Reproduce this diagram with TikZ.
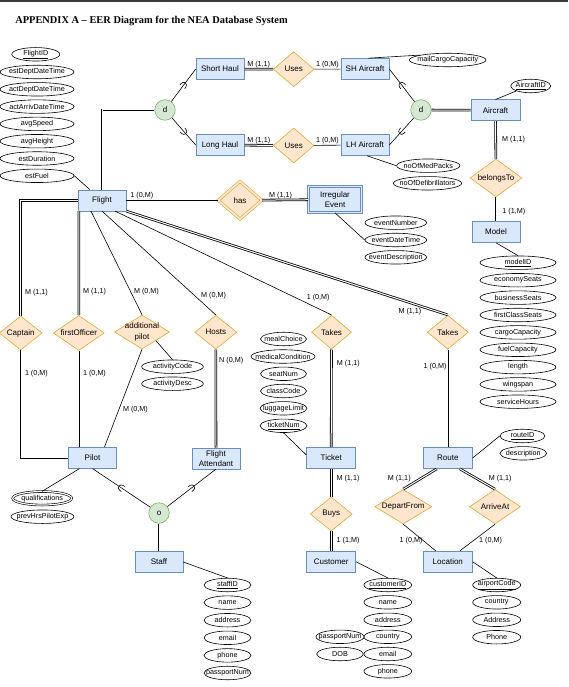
\documentclass[tikz,border=0pt]{standalone}
\usepackage{fontspec}
\setmainfont{Liberation Sans}
\newfontfamily\titlefont{Liberation Serif}
\usetikzlibrary{shapes.geometric, decorations.markings}
\definecolor{entfill}{HTML}{DAE8FC}
\definecolor{entdraw}{HTML}{6C8EBF}
\definecolor{relfill}{HTML}{FFE6CC}
\definecolor{reldraw}{HTML}{DDAA3A}
\definecolor{catfill}{HTML}{D5E8D4}
\definecolor{catdraw}{HTML}{82B366}
\begin{document}
\begin{tikzpicture}[x=1pt, y=-1pt, line width=0.6pt,
  entity/.style={rectangle, draw=entdraw, fill=entfill, minimum width=48pt, minimum height=21pt, inner sep=0pt, align=center, font=\fontsize{8}{10}\selectfont},
  weak/.style={entity, double=entfill, double distance=1.8pt},
  rel/.style={diamond, aspect=1.4, draw=reldraw, fill=relfill, inner sep=-4pt, align=center, font=\fontsize{8}{11}\selectfont},
  idrel/.style={rel, double=relfill, double distance=1.8pt},
  attr/.style={ellipse, draw=black, fill=white, minimum height=13.5pt, inner sep=0pt, font=\fontsize{7.2}{8}\selectfont,
    execute at begin node={\setbox0=\hbox\bgroup}, execute at end node={\egroup\makebox[0pt]{\box0}}},
  multi/.style={attr, double, double distance=1.2pt},
  cat/.style={circle, draw=catdraw, fill=catfill, minimum size=20.5pt, inner sep=0pt, font=\fontsize{8}{10}\selectfont},
  card/.style={inner sep=1pt, font=\fontsize{7.2}{8}\selectfont},
  total/.style={double, line width=0.8pt, double distance=1pt},
  subsetline/.style={postaction={decorate}, decoration={markings, mark=at position 0.5 with {\draw[line width=0.6pt] (-2pt,3pt) -- (0pt,3pt) arc[start angle=90, end angle=-90, radius=3pt] -- (-2pt,-3pt);}}}
]
\useasboundingbox (0,0) rectangle (568,687);
\fill[black!78] (0,0) rectangle (568,2);
\node[anchor=west, inner sep=0pt, font=\titlefont\bfseries\fontsize{10.4}{12}\selectfont] (title) at (15,21) {APPENDIX A – EER Diagram for the NEA Database System};

\node[entity] (flight) at (102,200.3) {Flight};
\node[entity] (shorthaul) at (220,69) {Short Haul};
\node[entity] (longhaul) at (220,145) {Long Haul};
\node[entity] (shac) at (365,69) {SH Aircraft};
\node[entity] (lhac) at (365,145) {LH Aircraft};
\node[entity, minimum width=49pt] (aircraft) at (495.5,110.3) {Aircraft};
\node[entity] (model) at (496,232) {Model};
\node[weak, minimum width=53pt, minimum height=26pt] (ie) at (335,199.5) {Irregular\\Event};
\node[entity] (pilot) at (92.5,457.8) {Pilot};
\node[entity] (fa) at (216,458.3) {Flight\\Attendant};
\node[entity, minimum width=49pt] (ticket) at (331.2,458) {Ticket};
\node[entity, minimum width=49pt] (route) at (447.8,458) {Route};
\node[entity] (staff) at (159,562) {Staff};
\node[entity, minimum width=49pt] (customer) at (331.2,561.7) {Customer};
\node[entity, minimum width=49pt] (location) at (447.8,561.7) {Location};

\node[cat] (d1) at (165,110) {d};
\node[cat] (d2) at (421,110) {d};
\node[cat] (ocat) at (159,513) {o};

\node[rel, minimum width=40.7pt, minimum height=35pt] (uses1) at (293.7,69.2) {Uses};
\node[rel, minimum width=40.7pt, minimum height=35pt] (uses2) at (293.7,145.5) {Uses};
\node[rel, minimum width=52pt, minimum height=38pt] (belongsto) at (496,178) {belongsTo};
\node[idrel, minimum width=44pt, minimum height=38pt] (has) at (240,200.3) {has};
\node[rel, minimum width=43pt, minimum height=34pt] (captain) at (20.7,333) {Captain};
\node[rel, minimum width=51pt, minimum height=35pt] (firstofficer) at (78.8,333) {firstOfficer};
\node[rel, minimum width=55pt, minimum height=34pt] (addpilot) at (142,332) {additional\\pilot};
\node[rel, minimum width=42pt, minimum height=34pt] (hosts) at (215.8,332.2) {Hosts};
\node[rel, minimum width=40pt, minimum height=34pt] (takes1) at (331.5,332.2) {Takes};
\node[rel, minimum width=41pt, minimum height=34pt] (takes2) at (447.8,332.2) {Takes};
\node[rel, minimum width=42pt, minimum height=34pt] (buys) at (331.2,514) {Buys};
\node[rel, minimum width=57pt, minimum height=34.5pt] (departfrom) at (403.3,506.7) {DepartFrom};
\node[rel, minimum width=51pt, minimum height=34.5pt] (arriveat) at (495,506.7) {ArriveAt};

\node[attr, minimum width=48pt] (flightid) at (35.8,54.3) {\underline{FlightID}};
\node[attr, minimum width=74pt] (estdept) at (37,72) {estDeptDateTime};
\node[attr, minimum width=74pt] (actdept) at (37,89.3) {actDeptDateTime};
\node[attr, minimum width=74pt] (actarriv) at (37,106.6) {actArrivDateTime};
\node[attr, minimum width=74pt] (avgspeed) at (37,123.9) {avgSpeed};
\node[attr, minimum width=74pt] (avgheight) at (37,141.2) {avgHeight};
\node[attr, minimum width=74pt] (estdur) at (37,158.5) {estDuration};
\node[attr, minimum width=74pt] (estfuel) at (37,175.8) {estFuel};

\node[attr, minimum width=76.7pt] (mailcargo) at (447.7,60) {mailCargoCapacity};
\node[attr, minimum width=40pt] (aircraftid) at (530.7,86) {\underline{AircraftID}};
\node[attr, minimum width=63.3pt] (medpacks) at (428.3,165.7) {noOfMedPacks};
\node[attr, minimum width=68.3pt] (defib) at (427.5,183.3) {noOfDefibrillators};

\node[attr, minimum width=61.7pt] (eventnumber) at (395.8,222.7) {eventNumber};
\node[attr, minimum width=61.7pt] (eventdatetime) at (395.8,240) {eventDateTime};
\node[attr, minimum width=61.7pt] (eventdesc) at (395.8,257.3) {eventDescription};

\node[attr, minimum width=76pt] (modelid) at (518,262.7) {\underline{modelID}};
\node[attr, minimum width=76pt] (economy) at (518,280.2) {economySeats};
\node[attr, minimum width=76pt] (business) at (518,297.6) {businessSeats};
\node[attr, minimum width=76pt] (firstclass) at (518,315) {firstClassSeats};
\node[attr, minimum width=76pt] (cargocap) at (518,332.4) {cargoCapacity};
\node[attr, minimum width=76pt] (fuelcap) at (518,349.8) {fuelCapacity};
\node[attr, minimum width=76pt] (length) at (518,367.1) {length};
\node[attr, minimum width=76pt] (wingspan) at (518,384.4) {wingspan};
\node[attr, minimum width=76pt] (servicehours) at (518,401.7) {serviceHours};

\node[attr, minimum width=61.7pt] (activitycode) at (172.5,366.7) {activityCode};
\node[attr, minimum width=61.7pt] (activitydesc) at (172.5,383.7) {activityDesc};

\node[attr, minimum width=46pt] (mealchoice) at (283.5,339) {mealChoice};
\node[attr, minimum width=64pt] (medical) at (283,356.5) {medicalCondition};
\node[attr, minimum width=46pt] (seatnum) at (283.5,373.8) {seatNum};
\node[attr, minimum width=46pt] (classcode) at (283.5,391) {classCode};
\node[attr, minimum width=47pt] (luggage) at (283.5,408.3) {luggageLimit};
\node[attr, minimum width=47pt] (ticketnum) at (283.5,425.8) {\underline{ticketNum}};

\node[attr, minimum width=45pt] (routeid) at (522.5,436) {\underline{routeID}};
\node[attr, minimum width=46.7pt] (routedesc) at (523.3,453.3) {description};

\node[multi, minimum width=59pt] (qualifications) at (42.2,498.3) {qualifications};
\node[attr, minimum width=63pt] (prevhrs) at (42.5,516.7) {prevHrsPilotExp};

\node[attr, minimum width=47pt] (staffid) at (227.5,585) {\underline{staffID}};
\node[attr, minimum width=47pt] (staffname) at (227.5,602.6) {name};
\node[attr, minimum width=47pt] (staffaddress) at (227.5,620.2) {address};
\node[attr, minimum width=47pt] (staffemail) at (227.5,637.8) {email};
\node[attr, minimum width=47pt] (staffphone) at (227.5,655.4) {phone};
\node[attr, minimum width=47pt] (staffpassport) at (227.5,673) {passportNum};

\node[attr, minimum width=47.7pt] (customerid) at (387.8,585) {\underline{customerID}};
\node[attr, minimum width=47.7pt] (custname) at (387.8,602.3) {name};
\node[attr, minimum width=47.7pt] (custaddress) at (387.8,619.8) {address};
\node[attr, minimum width=47.7pt] (custcountry) at (387.8,636.8) {country};
\node[attr, minimum width=47.7pt] (custemail) at (387.8,654) {email};
\node[attr, minimum width=47.7pt] (custphone) at (387.8,671.3) {phone};
\node[attr, minimum width=48pt] (custpassport) at (340,636.8) {passportNum};
\node[attr, minimum width=46.7pt] (dob) at (340,654) {DOB};

\node[attr, minimum width=48pt] (airportcode) at (496.7,585) {\underline{airportCode}};
\node[attr, minimum width=48pt] (loccountry) at (496.7,602.3) {country};
\node[attr, minimum width=48pt] (locaddress) at (496.7,619.8) {Address};
\node[attr, minimum width=48pt] (locphone) at (496.7,637.2) {Phone};

\draw[total] (flight) |- (d1);
\draw[subsetline] (d1) -- (shorthaul.west);
\draw[subsetline] (d1) -- (longhaul.west);
\draw[total] (shorthaul) -- node[card, above] (c1) {M (1,1)} (uses1);
\draw (uses1) -- node[card, above] (c2) {1 (0,M)} (shac);
\draw[total] (longhaul) -- node[card, above] (c3) {M (1,1)} (uses2);
\draw (uses2) -- node[card, above] (c4) {1 (0,M)} (lhac);
\draw[subsetline] (d2) -- (shac.east);
\draw[subsetline] (d2) -- (lhac.east);
\draw[total] (d2) -- (aircraft);
\draw[total] (aircraft) -- node[card, right=5pt] (c5) {M (1,1)} (belongsto);
\draw[total] (belongsto) -- node[card, right=5pt, pos=0.6] (c6) {1 (1,M)} (model);

\draw (flight) -- node[card, above, pos=0.17] (c7) {1 (0,M)} (has);
\draw[total] (has) -- node[card, above, pos=0.4] (c8) {M (1,1)} (ie);

\draw[total] (flight.west) -| node[card, right=3pt, pos=0.9] (c9) {M (1,1)} (captain.north);
\draw (captain.south) |- node[card, right=3pt, pos=0.11] (c10) {1 (0,M)} (pilot.west);
\draw[total] ([xshift=1.2pt]flight.south west) -- node[card, right=3pt, pos=0.77] (c11) {M (1,1)} (firstofficer.north);
\draw (firstofficer.south) -- node[card, right=3pt, pos=0.24] (c12) {1 (0,M)} (firstofficer.south |- pilot.north);
\draw ([xshift=-11pt]flight.south) -- node[card, right=2pt, pos=0.78] (c13) {M (0,M)} (addpilot.north);
\draw (addpilot.south) -- node[card, right=3pt, pos=0.62] (c14) {M (0,M)} ([xshift=12pt]pilot.north);
\draw (flight.south) -- node[card, above right, pos=0.86] (c15) {M (0,M)} (hosts.north);
\draw[total] (hosts.south) -- node[card, right=2pt, pos=0.11] (c16) {N (0,M)} (fa.north);
\draw ([xshift=13pt]flight.south) -- node[card, above right, pos=0.88] (c17) {1 (0,M)} (takes1.north);
\draw[total] (flight.south east) -- node[card, below left, pos=0.922] (c18) {M (1,1)} (takes2.north);
\draw[total] (takes1.south) -- node[card, right=4pt, pos=0.14] (c19) {M (1,1)} (ticket.north);
\draw (takes2.south) -- node[card, left, pos=0.18] (c20) {1 (0,M)} (route.north);

\draw[total] (ticket.south) -- node[card, right=4pt, pos=0.37] (c21) {M (1,1)} (buys.north);
\draw[total] (buys.south) -- node[card, right=4pt] (c22) {1 (1,M)} (customer.north);
\draw[total] ([xshift=-11pt]route.south) -- node[card, left=8pt] (c23) {M (1,1)} (departfrom.north);
\draw[total] ([xshift=12pt]route.south) -- node[card, right=10pt] (c24) {M (1,1)} (arriveat.north);
\draw (departfrom.south) -- node[card, left, pos=0.63] (c25) {1 (0,M)} ([xshift=-12pt]location.north);
\draw (arriveat.south) -- node[card, right=5pt, pos=0.63] (c26) {1 (0,M)} ([xshift=12pt]location.north);

\draw[subsetline] (ocat) -- (pilot.south);
\draw[subsetline] (ocat) -- (fa.south);
\draw[total] (ocat) -- (staff);

\draw (estfuel.east) -- ([xshift=12pt]flight.north west);
\draw ([xshift=3pt]shac.north) -- (mailcargo.170);
\draw (aircraft.north) -- (aircraftid.south west);
\draw ([xshift=2pt]lhac.south) -- (medpacks.west);
\draw (ie.south) -- (eventdatetime.west);
\draw (model.south) -- (modelid.north);
\draw (addpilot.south east) -- (activitycode.north);
\draw (ticketnum.south) -- ([yshift=3pt]ticket.west);
\draw (route.east) -- (routeid.west);
\draw ([xshift=-13pt]pilot.south) -- (qualifications.north);
\draw (staff.east) -- (staffid.north);
\draw (customer.east) -- (customerid.north);
\draw (location.east) -- (airportcode.north);
\end{tikzpicture}
\end{document}
